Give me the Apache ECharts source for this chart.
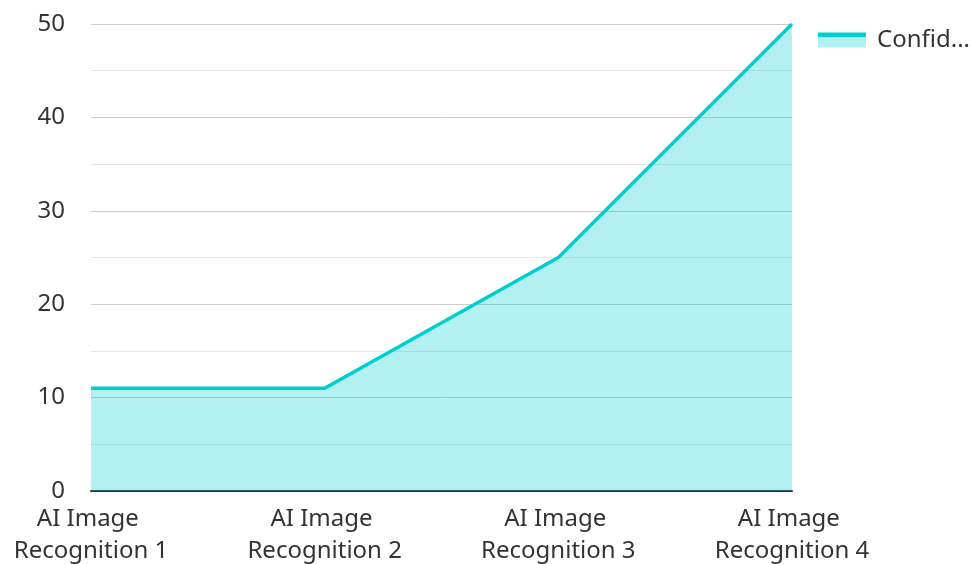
<!DOCTYPE html>
<html>
<head>
<meta charset="utf-8">
<script src="https://cdn.jsdelivr.net/npm/echarts@6/dist/echarts.min.js"></script>
<style>html,body{margin:0;padding:0;background:#fff}#c{width:974px;height:564px}</style>
</head>
<body>
<div id="c"></div>
<script>
const categories = ["AI Image Recognition 1", "AI Image Recognition 2", "AI Image Recognition 3", "AI Image Recognition 4"];
const seriesName = "Confidence";
const values = [11, 11, 25, 50];

const chart = echarts.init(document.getElementById('c'));
chart.setOption({
  animation: false,
  textStyle: { fontFamily: 'Noto Sans' },
  grid: { left: 91, right: 182, top: 24, bottom: 73, containLabel: false, outerBoundsMode: 'none' },
  legend: {
    show: true,
    left: 813,
    top: 23,
    icon: 'rect',
    itemWidth: 48,
    itemHeight: 15,
    itemGap: 10,
    itemStyle: {
      color: {
        type: 'linear', x: 0, y: 0, x2: 0, y2: 1,
        colorStops: [
          { offset: 0, color: '#00CED1' },
          { offset: 0.27, color: '#00CED1' },
          { offset: 0.27, color: '#B2F0F1' },
          { offset: 1, color: '#B2F0F1' }
        ]
      },
      borderWidth: 0
    },
    textStyle: { fontSize: 24, color: '#333', width: 97, overflow: 'truncate', padding: [0, 0, 4, 6], fontFamily: 'Noto Sans' }
  },
  xAxis: {
    type: 'category',
    data: categories,
    boundaryGap: false,
    axisLine: { show: true, lineStyle: { color: '#333', width: 2 } },
    axisTick: { show: false },
    axisLabel: { fontSize: 24, color: '#333', width: 200, overflow: 'break', lineHeight: 32, margin: 12, interval: 0, fontFamily: 'Noto Sans' }
  },
  yAxis: {
    type: 'value',
    min: 0, max: 50, interval: 10,
    axisLine: { show: false },
    axisTick: { show: false },
    axisLabel: { fontSize: 24, color: '#333', margin: 26, fontFamily: 'Noto Sans' },
    splitLine: { lineStyle: { color: '#cccccc', width: 1 } },
    minorTick: { show: false, splitNumber: 2 },
    minorSplitLine: { show: true, lineStyle: { color: '#e6e6e6', width: 1 } }
  },
  series: [{
    name: seriesName,
    type: 'line',
    data: values,
    symbol: 'none',
    lineStyle: { color: '#00CED1', width: 3.5 },
    itemStyle: { color: '#00CED1' },
    areaStyle: { color: 'rgba(0,206,209,0.3)', opacity: 1 }
  }]
});
</script>
</body>
</html>
